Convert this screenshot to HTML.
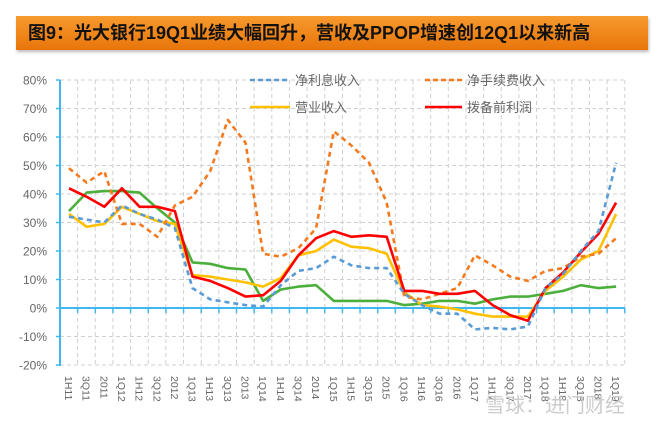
<!DOCTYPE html>
<html><head><meta charset="utf-8"><style>
body{margin:0;background:#fff;width:658px;height:423px;overflow:hidden;font-family:"Liberation Sans","Noto Sans CJK SC",sans-serif}
.t{position:absolute;left:16px;top:16px;width:632px;height:34px;background:linear-gradient(#f79a2e,#e8750a);box-shadow:1px 2px 3px #bbb;font-weight:bold;font-size:18px;line-height:34px;color:#111;padding-left:12px;box-sizing:border-box}
</style></head><body>
<div class="t">图9：光大银行19Q1业绩大幅回升，营收及PPOP增速创12Q1以来新高</div>
<svg width="658" height="423" style="position:absolute;left:0;top:0" id="s" font-family="Liberation Sans,Noto Sans CJK SC,sans-serif"></svg>
<script>
var s=document.getElementById('s'),h='';
function Y(v){return 308-v*2.85}
function X(i){return 69+i*17.65}
for(var k=0;k<=32;k++){var x=60+k*17.65;h+='<line x1="'+x+'" y1="80" x2="'+x+'" y2="365" stroke="#d0d0d0" stroke-dasharray="4,3"/>';h+='<line x1="'+x+'" y1="308" x2="'+x+'" y2="313" stroke="#3fb8f0" stroke-width="1.5"/>';}
for(var v=-20;v<=80;v+=10){var y=Y(v);if(v!=0)h+='<line x1="60" y1="'+y+'" x2="625" y2="'+y+'" stroke="#d0d0d0" stroke-dasharray="4,3"/>';h+='<line x1="56" y1="'+y+'" x2="60" y2="'+y+'" stroke="#3fb8f0" stroke-width="1.5"/>';h+='<text x="47" y="'+(y+4.5)+'" font-size="12" fill="#666" text-anchor="end">'+v+'%</text>';}
h+='<line x1="60" y1="308" x2="625" y2="308" stroke="#3fb8f0" stroke-width="2"/><line x1="60" y1="80" x2="60" y2="366" stroke="#3fb8f0" stroke-width="2"/>';
var L="1H11,3Q11,2011,1Q12,1H12,3Q12,2012,1Q13,1H13,3Q13,2013,1Q14,1H14,3Q14,2014,1Q15,1H15,3Q15,2015,1Q16,1H16,3Q16,2016,1Q17,1H17,3Q17,2017,1Q18,1H18,3Q18,2018,1Q19".split(',');
L.forEach(function(l,i){var x=X(i)-4;h+='<text transform="translate('+x+',376) rotate(90)" font-size="10.5" fill="#666">'+l+'</text>'});
var D=[
['#5b9bd5','5,4',[32,31,30,36,33,31,28,7,3,2,1,0.5,8,13,14,18,15,14,14,5,1,-2,-2,-7.5,-7,-7.5,-6.5,7,12,20,27,51]],
['#f47a20','5,4',[49,44,48,29.5,29.5,25,36,39,48,66,58,19,18,21,28,62,57,51,37,4,3,5,7,18.5,15,11,9.5,13,14,18,19,24.5]],
['#ffc000','',[33,28.5,29.5,35.5,33,30.5,29.5,11.5,11,10,9,7.5,10.5,18.5,20,24,21.5,21,19,5.5,1,0.5,-0.5,-2,-3,-3,-3,6,11,17,20,33]],
['#ff0000','',[42,39,35.5,42,35.5,35.5,34,11,9.5,7,4,4.5,9.5,18.5,24.5,27,25,25.5,25,6,6,5,5,6,1,-2.5,-4.5,7,12.5,19.5,26,37]],
['#4caf3c','',[34,40.5,41,41,40.5,35,30,16,15.5,14,13.5,2.5,6.5,7.5,8,2.5,2.5,2.5,2.5,1,1.5,2.5,2.5,1.5,3,4,4,5,6,8,7,7.5]]];
var o=[4,2,1,3,0];
o.forEach(function(j){var d=D[j];var p=d[2].map(function(v,i){return X(i).toFixed(1)+','+Y(v).toFixed(1)}).join(' ');
h+='<polyline points="'+p+'" fill="none" stroke="'+d[0]+'" stroke-width="2.6" stroke-linejoin="round"'+(d[1]?' stroke-dasharray="'+d[1]+'"':'')+'/>';});
h+='<line x1="250" y1="80" x2="290" y2="80" stroke="#5b9bd5" stroke-width="2.5" stroke-dasharray="5,3"/><text x="295" y="85" font-size="13" fill="#666">净利息收入</text>';
h+='<line x1="425" y1="80" x2="462" y2="80" stroke="#f47a20" stroke-width="2.5" stroke-dasharray="5,3"/><text x="467" y="85" font-size="13" fill="#666">净手续费收入</text>';
h+='<line x1="250" y1="107" x2="290" y2="107" stroke="#ffc000" stroke-width="2.5"/><text x="295" y="112" font-size="13" fill="#666">营业收入</text>';
h+='<line x1="425" y1="107" x2="462" y2="107" stroke="#ff0000" stroke-width="2.5"/><text x="467" y="112" font-size="13" fill="#666">拨备前利润</text>';
h+='<text x="485" y="412" font-size="20" fill="#ccc">雪球：进门财经</text>';
s.innerHTML=h;
</script>
</body></html>
